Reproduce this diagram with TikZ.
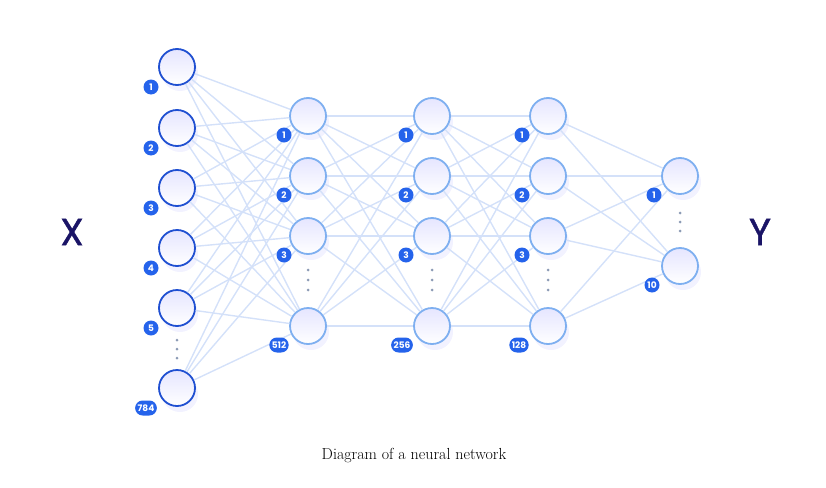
\documentclass[tikz,border=0pt]{standalone}
\usepackage{fontspec}
\newfontfamily\sans{Poppins}
\newfontfamily\sansmed{Poppins}[FakeBold=1.2]
\definecolor{edge}{HTML}{D4E1F9}
\definecolor{inb}{HTML}{1F4FD1}
\definecolor{hidb}{HTML}{7EAFF0}
\definecolor{badge}{HTML}{2563EB}
\definecolor{navy}{HTML}{1A1466}
\definecolor{dotc}{HTML}{8C9BB5}
\begin{document}
\begin{tikzpicture}[x=1pt,y=-1pt,
  neuron/.style={circle,minimum size=36pt,inner sep=0pt,top color=blue!10,bottom color=white,line width=1.8pt},
  inn/.style={neuron,draw=inb},
  hid/.style={neuron,draw=hidb},
  bdg/.style={fill=badge,text=white,rounded corners=7.5pt,minimum height=15pt,minimum width=15pt,inner sep=2.5pt,font=\sans\bfseries\fontsize{9}{9}\selectfont},
  dt/.style={circle,fill=dotc,inner sep=0pt,minimum size=3pt},
  ed/.style={edge,line width=1.4pt}]
\useasboundingbox (0,0) rectangle (826,487);
\foreach \n/\y in {1/67,2/128,3/188,4/248,5/308,6/388}{\coordinate (pi\n) at (177,\y);}
\foreach \n/\y in {1/116,2/176,3/236,4/326}{\coordinate (pa\n) at (308,\y);\coordinate (pb\n) at (432,\y);\coordinate (pc\n) at (548,\y);}
\foreach \n/\y in {1/176,2/266}{\coordinate (po\n) at (680,\y);}
% shadows
\foreach \n in {1,...,6}{\fill[blue!5] ([shift={(3,6)}]pi\n) circle (18);}
\foreach \n in {1,...,4}{\fill[blue!5] ([shift={(3,6)}]pa\n) circle (18);\fill[blue!5] ([shift={(3,6)}]pb\n) circle (18);\fill[blue!5] ([shift={(3,6)}]pc\n) circle (18);}
\foreach \n in {1,2}{\fill[blue!5] ([shift={(3,6)}]po\n) circle (18);}
% nodes
\foreach \n in {1,...,6}{\node[inn] (i\n) at (pi\n) {};}
\foreach \n in {1,...,4}{\node[hid] (a\n) at (pa\n) {};\node[hid] (b\n) at (pb\n) {};\node[hid] (c\n) at (pc\n) {};}
\foreach \n in {1,2}{\node[hid] (o\n) at (po\n) {};}
% edges
\foreach \i in {1,...,6}{\foreach \j in {1,...,4}{\draw[ed] (i\i) -- (a\j);}}
\foreach \i in {1,...,4}{\foreach \j in {1,...,4}{\draw[ed] (a\i) -- (b\j);\draw[ed] (b\i) -- (c\j);}}
\foreach \i in {1,...,4}{\foreach \j in {1,2}{\draw[ed] (c\i) -- (o\j);}}
% badges
\foreach \n/\t in {1/1,2/2,3/3,4/4,5/5}{\node[bdg] (bi\n) at ([shift={(-26,20)}]pi\n) {\t};}
\node[bdg] (bi6) at ([shift={(-31,20)}]pi6) {784};
\foreach \n/\t in {1/1,2/2,3/3}{\node[bdg] (ba\n) at ([shift={(-24,19)}]pa\n) {\t};\node[bdg] (bb\n) at ([shift={(-26,19)}]pb\n) {\t};\node[bdg] (bc\n) at ([shift={(-26,19)}]pc\n) {\t};}
\node[bdg] (ba4) at ([shift={(-29,19)}]pa4) {512};
\node[bdg] (bb4) at ([shift={(-30,19)}]pb4) {256};
\node[bdg] (bc4) at ([shift={(-29,19)}]pc4) {128};
\node[bdg] (bo1) at ([shift={(-26,19)}]po1) {1};
\node[bdg] (bo2) at ([shift={(-28,19)}]po2) {10};
% dots
\foreach \y in {340,349,358}{\node[dt] at (177,\y) {};}
\foreach \x in {308,432,548}{\foreach \y in {270,280,290}{\node[dt] at (\x,\y) {};}}
\foreach \y in {213,222,231}{\node[dt] at (680,\y) {};}
% labels
\node[text=navy,font=\sansmed\fontsize{38}{38}\selectfont] (X) at (72,232) {X};
\node[text=navy,font=\sansmed\fontsize{38}{38}\selectfont] (Y) at (760,232) {Y};
\node[font=\fontsize{16}{16}\selectfont] (cap) at (414,456) {Diagram of a neural network};
\end{tikzpicture}
\end{document}
